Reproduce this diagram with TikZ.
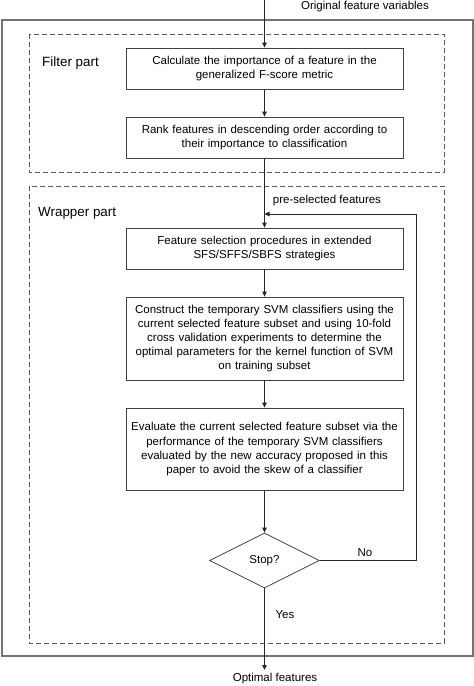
\documentclass[tikz,border=0pt]{standalone}
\usepackage{fontspec}
\setmainfont{Liberation Sans}
\usetikzlibrary{shapes.geometric,arrows.meta}
\begin{document}
\begin{tikzpicture}[x=1pt,y=-1pt,
  font=\fontsize{11.5}{14.2}\selectfont,
  stepbox/.style={draw=black!75,line width=0.8pt,minimum width=277pt,text width=274pt,align=center,inner sep=0pt},
  part/.style={draw=black!65,dash pattern=on 5pt off 3pt,line width=0.8pt},
  conn/.style={draw=black!85,line width=0.8pt,-{Triangle[length=5pt,width=4.5pt]}},
  lbl/.style={inner sep=0pt,anchor=center}
]
\useasboundingbox (0,0) rectangle (474,686);
\draw[black!55,line width=2pt] (1.5,20) rectangle (472.5,656);
\draw[part] (29,34) rectangle (444,172);
\draw[part] (29,186) rectangle (444,643);

\node[lbl,anchor=west] (fp) at (42,63) {\fontsize{13.4}{15}\selectfont Filter part};
\node[lbl,anchor=west] (wp) at (38,213) {\fontsize{13.4}{15}\selectfont Wrapper part};

\node[stepbox,minimum height=41.5pt] (b1) at (264.5,68.75) {Calculate the importance of a feature in the\\generalized F-score metric};
\node[stepbox,minimum height=41pt] (b2) at (264.5,137.5) {Rank features in descending order according to\\their importance to classification};
\node[stepbox,minimum height=41pt] (b3) at (264.5,248.5) {Feature selection procedures in extended\\SFS/SFFS/SBFS strategies};
\node[stepbox,minimum height=83pt] (b4) at (264.5,338.5) {Construct the temporary SVM classifiers using the\\current selected feature subset and using 10-fold\\cross validation experiments to determine the\\optimal parameters for the kernel function of SVM\\on training subset};
\node[stepbox,minimum height=82.5pt] (b5) at (264.5,449.25) {Evaluate the current selected feature subset via the\\performance of the temporary SVM classifiers\\evaluated by the new accuracy proposed in this\\paper to avoid the skew of a classifier};
\node[diamond,draw=black!75,line width=0.8pt,minimum width=110pt,minimum height=55pt,inner sep=0pt,aspect=2] (stop) at (264.5,560.5) {Stop?};

\coordinate (top) at (264.5,0);
\coordinate (merge) at (264.5,214);
\coordinate (corner) at (416,214);
\coordinate (out) at (264.5,670);

\node[lbl] (orig) at (365,7) {Original feature variables};
\node[lbl] (pre) at (327,201) {pre-selected features};
\node[lbl] (no) at (365,553) {No};
\node[lbl] (yes) at (285,615) {Yes};
\node[lbl] (opt) at (275,679) {Optimal features};

\draw[conn] (top) -- (b1.north);
\draw[conn] (b1) -- (b2);
\draw[conn] (b2.south) -- (b3.north);
\draw[conn] (b3) -- (b4);
\draw[conn] (b4) -- (b5);
\draw[conn] (b5) -- (stop);
\draw[conn] (stop.east) -- (stop.east -| corner) -- (corner) -- (merge);
\draw[conn] (stop.south) -- (out);
\end{tikzpicture}
\end{document}
